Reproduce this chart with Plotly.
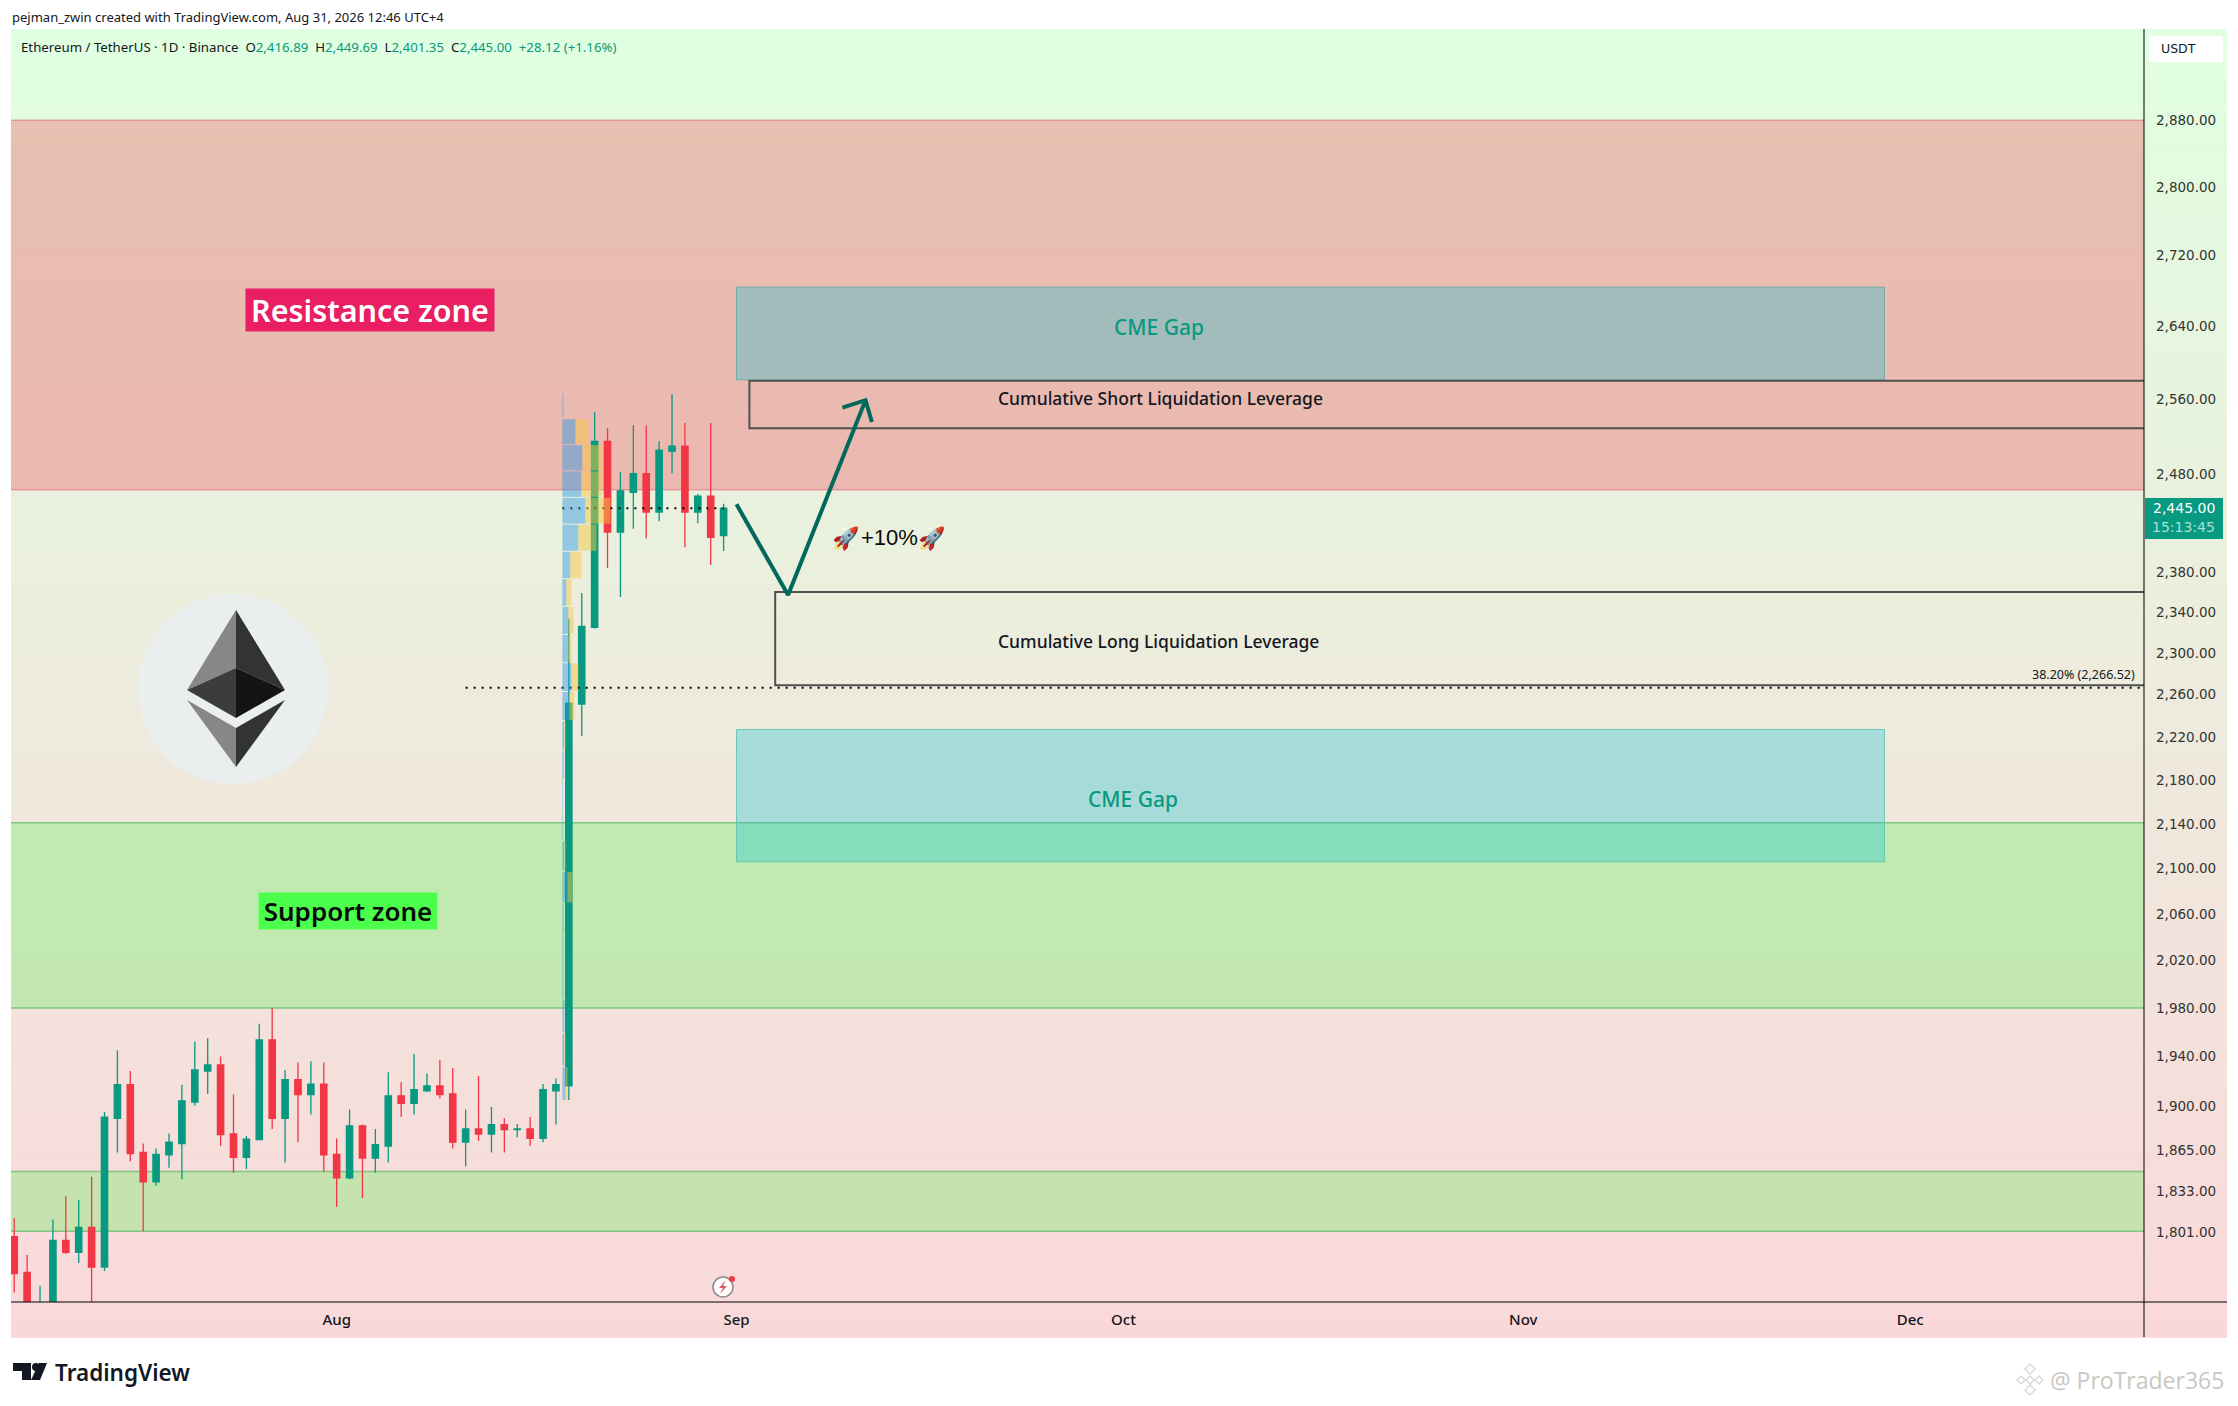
import pandas as pd
import math
import plotly.graph_objects as go

# ETHUSDT daily candles
start_day = '2026-07-07'
opens = [1798, 1771, 1725, 1735, 1795, 1786, 1805, 1775, 1890, 1917, 1863, 1840, 1861, 1870, 1903, 1928,
         1933, 1877.5, 1859, 1873, 1953.5, 1890, 1921, 1909, 1917.5, 1861.5, 1843, 1884, 1858.5, 1868, 1908, 1902,
         1912, 1916, 1909.5, 1871, 1881.5, 1877.5, 1885, 1881, 1881.5, 1874, 1912, 1916, 2251, 2325,
         2515, 2420.5, 2461.5, 2481, 2441, 2504.6, 2510, 2441, 2457.5, 2416.89]
highs = [1812, 1784, 1761, 1811, 1829, 1826, 1844, 1895, 1945, 1928, 1870, 1866, 1878, 1917, 1952, 1955,
         1940, 1909, 1876, 1967, 1980, 1929, 1935, 1936, 1935, 1874, 1897, 1885, 1881.5, 1927, 1919, 1942,
         1926, 1937, 1930.5, 1897, 1924, 1899, 1890, 1885.5, 1891, 1917.5, 1922, 2333, 2359, 2546,
         2529, 2483, 2532, 2532, 2515, 2565.5, 2534.5, 2459.6, 2534.5, 2449.69]
lows = [1756, 1725, 1715, 1725, 1785, 1778, 1740, 1772, 1863, 1856, 1802, 1837, 1851, 1842, 1900, 1909.5,
        1868, 1847, 1850, 1872.5, 1881.5, 1855, 1871, 1893, 1848, 1820.5, 1842, 1827.5, 1847, 1855, 1891, 1893,
        1911, 1906, 1866, 1852, 1872, 1863, 1863, 1875, 1868, 1871, 1885, 1904.6, 2221, 2324,
        2384, 2355, 2424, 2414, 2431.6, 2481, 2405, 2429.6, 2387, 2401.35]
closes = [1770, 1735, 1742, 1795, 1786, 1805, 1775, 1891, 1917, 1862, 1840, 1861.5, 1871, 1904, 1929, 1933,
          1877, 1859, 1873.5, 1953.5, 1890, 1921, 1909, 1917.5, 1861, 1843, 1884, 1858.5, 1869, 1908, 1902, 1913,
          1916, 1909, 1871, 1881.5, 1877.5, 1885, 1881, 1881.5, 1874, 1913, 1917, 2252, 2326, 2515,
          2420.5, 2463, 2481, 2441, 2505.6, 2510, 2441, 2457.5, 2415, 2445]

price_ticks = [2880, 2800, 2720, 2640, 2560, 2480, 2380, 2340, 2300, 2260, 2220, 2180, 2140, 2100, 2060, 2020,
               1980, 1940, 1900, 1865, 1833, 1801]
month_ticks = ['2026-08-01', '2026-09-01', '2026-10-01', '2026-11-01', '2026-12-01']
month_labels = ['Aug', 'Sep', 'Oct', 'Nov', 'Dec']

# zones
resistance = [2464, 2880]
supports = [[1980, 2141], [1802, 1848]]
cme_upper = [2581, 2684]
cme_lower = [2106, 2227]
cme_dates = ['2026-09-01', '2026-11-29']
short_liq = [2529, 2580]
long_liq = [2269, 2360]
short_liq_start = '2026-09-02'
long_liq_start = '2026-09-04'
fib_level = 2266.52
fib_start = '2026-08-11'
last_price = 2445
last_start = '2026-08-18 12:00'
last_end = '2026-08-31'

# projected path drawn on the chart
path_dates = ['2026-09-01', '2026-09-05', '2026-09-11']
path_prices = [2449, 2357, 2559]
head_dates = ['2026-09-09 05:00', '2026-09-11', '2026-09-11 12:00']
head_prices = [2551, 2559, 2535.6]

# volume profile rows, width measured in candles
vp_base = '2026-08-18 12:00'
vp_tops = [2566.6, 2539, 2511.4, 2483.8, 2456.2, 2428.6, 2401, 2373.4, 2345.8, 2318.2, 2290.6, 2263, 2235.4, 2207.8,
           2180.2, 2152.6, 2125, 2097.4, 2069.8, 2042.2, 2014.6, 1987, 1959.4, 1931.8]
vp_bottom = 1904.2
vp_buy = [0.08, 1.01, 1.55, 1.47, 1.78, 1.24, 0.62, 0.31, 0.47, 0.47, 0.7, 0.54, 0.16, 0.12, 0.05, 0.05,
          0.16, 0.39, 0.1, 0.08, 0.08, 0.16, 0.16, 0.23]
vp_sell = [0, 1.01, 1.55, 1.63, 1.94, 1.4, 0.85, 0.39, 0.39, 0.23, 0.54, 0.39, 0.08, 0, 0, 0,
           0.08, 0.39, 0, 0, 0, 0, 0.08, 0.16]

OFF = 8
FW = 2238 - 2 * OFF
FH = 1406 - 2 * OFF


def fx(px):
    return (px - OFF) / FW


def fy(py):
    return 1 - (py - OFF) / FH


def poly(points, fill, line=None, width=0):
    d = 'M ' + ' L '.join('%.5f,%.5f' % (fx(a), fy(b)) for a, b in points) + ' Z'
    return dict(type='path', xref='paper', yref='paper', path=d, fillcolor=fill, layer='above',
                line=dict(color=line or fill, width=width))


def circle(cx, cy, r, fill, line=None, width=0):
    return dict(type='circle', xref='paper', yref='paper', x0=fx(cx - r), x1=fx(cx + r), y0=fy(cy + r), y1=fy(cy - r),
                fillcolor=fill, layer='above', line=dict(color=line or fill, width=width))


def box(x0, y0, x1, y1, fill, line=None, width=0):
    return dict(type='rect', xref='paper', yref='paper', x0=fx(x0), x1=fx(x1), y0=fy(y1), y1=fy(y0),
                fillcolor=fill, layer='above', line=dict(color=line or fill, width=width))


def text(s, x, y, size, color='#131722', family='Noto Sans', anchor='left', weight=None, **kw):
    return dict(text=s, xref='paper', yref='paper', x=fx(x), y=fy(y), xanchor=anchor, yanchor='middle', showarrow=False,
                font=dict(size=size, color=color, family=family, weight=weight), **kw)


days = pd.date_range(start_day, periods=len(opens), freq='D')
x_range = ['2026-07-06 18:00', '2026-12-19 03:00']
y_range = [math.log10(1749), math.log10(2993)]
# zones run past both edges of the chart and get clipped there
zone_span = ['2026-06-15', '2027-01-15']

fig = go.Figure()

# page background gradient, sits on the first subplot so everything else stays above it
fig.add_trace(go.Heatmap(x=[0, 1], y=[0, 1], z=[[0, 0], [1, 1]], zsmooth='best', showscale=False, hoverinfo='skip',
                         colorscale=[[0, 'rgb(250,216,218)'], [1, 'rgb(224,255,224)']], xaxis='x', yaxis='y'))

fig.add_trace(go.Candlestick(x=days, open=opens, high=highs, low=lows, close=closes, xaxis='x2', yaxis='y2',
                             increasing=dict(line=dict(color='#089981', width=1.3), fillcolor='#089981'),
                             decreasing=dict(line=dict(color='#F23645', width=1.3), fillcolor='#F23645'),
                             whiskerwidth=0, showlegend=False))

fig.add_trace(go.Scatter(x=path_dates, y=path_prices, mode='lines', xaxis='x2', yaxis='y2', showlegend=False,
                         line=dict(color='#00695c', width=4)))
fig.add_trace(go.Scatter(x=head_dates, y=head_prices, mode='lines', xaxis='x2', yaxis='y2', showlegend=False,
                         line=dict(color='#00695c', width=4)))

shapes = []


def zone(lo, hi, fill, line, width=1, d0=None, d1=None, layer='below'):
    shapes.append(dict(type='rect', xref='x2', yref='y2', x0=d0 or zone_span[0], x1=d1 or zone_span[1], y0=lo, y1=hi,
                       fillcolor=fill, layer=layer, line=dict(color=line, width=width)))


zone(resistance[0], resistance[1], 'rgba(242,54,69,0.3)', 'rgba(230,110,130,0.9)')
for s in supports:
    zone(s[0], s[1], 'rgba(0,255,0,0.2)', 'rgba(120,195,120,0.9)', 1.5)
zone(cme_upper[0], cme_upper[1], 'rgba(0,188,212,0.3)', 'rgba(90,170,170,0.8)', 1, cme_dates[0], cme_dates[1])
zone(cme_lower[0], cme_lower[1], 'rgba(0,188,212,0.3)', 'rgba(90,190,180,0.8)', 1, cme_dates[0], cme_dates[1])
zone(short_liq[0], short_liq[1], 'rgba(0,0,0,0)', '#505050', 2, short_liq_start, zone_span[1])
zone(long_liq[0], long_liq[1], 'rgba(0,0,0,0)', '#505050', 2, long_liq_start, zone_span[1])

# dotted levels
shapes.append(dict(type='line', xref='x2', yref='y2', x0=fib_start, x1=x_range[1], y0=fib_level, y1=fib_level,
                   layer='above', line=dict(color='black', width=2, dash='2px,6px')))
shapes.append(dict(type='line', xref='x2', yref='y2', x0=last_start, x1=last_end, y0=last_price, y1=last_price,
                   layer='above', line=dict(color='black', width=2, dash='2px,6px')))

# volume profile rows
edges = vp_tops + [vp_bottom]
base = pd.Timestamp(vp_base)
for i in range(len(vp_tops)):
    top = edges[i] - 0.5
    bot = edges[i + 1] + 0.5
    mid = base + pd.Timedelta(days=vp_buy[i])
    end = mid + pd.Timedelta(days=vp_sell[i])
    shapes.append(dict(type='rect', xref='x2', yref='y2', x0=base, x1=mid, y0=bot, y1=top, layer='above',
                       fillcolor='rgba(41,150,230,0.45)', line=dict(width=0)))
    if vp_sell[i] > 0:
        shapes.append(dict(type='rect', xref='x2', yref='y2', x0=mid, x1=end, y0=bot, y1=top, layer='above',
                           fillcolor='rgba(245,200,68,0.5)', line=dict(width=0)))

# frame lines
shapes.append(box(2143.5, 29, 2144.5, 1337, 'black'))
shapes.append(box(11, 1301.5, 2227, 1302.5, 'black'))

# ethereum logo
shapes.append(circle(233, 689, 95, '#ebeeee'))
shapes.append(poly([(236, 610), (187, 690), (236, 668)], '#878787'))
shapes.append(poly([(236, 610), (285, 690), (236, 668)], '#323432'))
shapes.append(poly([(187, 690), (236, 668), (236, 718)], '#3c3c3c'))
shapes.append(poly([(285, 690), (236, 668), (236, 718)], '#141414'))
shapes.append(poly([(187, 700), (236, 728), (236, 767)], '#878787'))
shapes.append(poly([(285, 700), (236, 728), (236, 767)], '#323432'))

# price scale widgets
shapes.append(box(2149, 36, 2223, 62, 'white'))
shapes.append(box(2145, 498, 2223, 539, '#089981'))

# news icon
shapes.append(circle(723, 1287, 10, 'white', '#8a8a8a', 1.5))
shapes.append(poly([(726, 1280), (719, 1288), (723, 1288), (720, 1294), (727, 1286), (723, 1286)], '#d9566a'))
shapes.append(circle(732, 1279, 3, '#f23645'))

# tradingview logo
shapes.append(poly([(13, 1363), (31, 1363), (31, 1380), (22, 1380), (22, 1371), (13, 1371)], '#131722'))
shapes.append(circle(36, 1367, 4, '#131722'))
shapes.append(poly([(39, 1363), (47, 1363), (40, 1380), (31, 1380)], '#131722'))

# watermark icon
for cx, cy, r in [(2030, 1369, 5), (2030, 1380, 4), (2021, 1380, 4), (2039, 1380, 4), (2030, 1390, 5)]:
    shapes.append(poly([(cx - r, cy), (cx, cy - r), (cx + r, cy), (cx, cy + r)], 'rgba(255,255,255,0)', '#dcdad6', 1.5))

green = '#089981'
legend = ('Ethereum / TetherUS · 1D · Binance &nbsp;O<span style="color:%s">2,416.89</span> &nbsp;H<span style="color:%s">2,449.69</span>'
          ' &nbsp;L<span style="color:%s">2,401.35</span> &nbsp;C<span style="color:%s">2,445.00</span>'
          ' &nbsp;<span style="color:%s">+28.12 (+1.16%%)</span>') % (green, green, green, green, green)

annotations = [
    text('pejman_zwin created with TradingView.com, Aug 31, 2026 12:46 UTC+4', 10, 17, 13),
    text(legend, 19, 47, 13.25),
    text('USDT', 2159, 49, 12.5, family='DejaVu Sans'),
    text('2,445.00', 2217, 508, 14, color='white', family='DejaVu Sans', anchor='right'),
    text('15:13:45', 2217, 527, 14, color='#a8e0d2', family='DejaVu Sans', anchor='right'),
    text('Resistance zone', 370, 310, 30.5, color='white', anchor='center', weight=600,
         bgcolor='#e91e63', width=246, height=40),
    text('Support zone', 348, 911, 26, color='#0a0a0a', anchor='center', weight=600,
         bgcolor='#4cff4c', width=176, height=34),
    text('CME Gap', 1159, 327, 21, color=green, anchor='center', weight=500),
    text('CME Gap', 1133, 799, 21, color=green, anchor='center', weight=500),
    text('Cumulative Short Liquidation Leverage', 996, 398, 17.5, weight=500),
    text('Cumulative Long Liquidation Leverage', 996, 641, 17.5, weight=500),
    text('38.20% (2,266.52)', 2137, 674, 12.5, anchor='right'),
    text('🚀', 845, 537, 22, anchor='center'),
    text('+10%', 889.5, 537, 22, color='#0a0a0a', family='Liberation Sans', anchor='center'),
    text('🚀', 931, 537, 22, anchor='center'),
    text('TradingView', 53, 1372, 22.5, weight=600),
    text('@ ProTrader365', 2048, 1380, 23, color='#c9c7c2', family='Open Sans'),
]

fig.update_layout(
    width=FW, height=FH, margin=dict(l=0, r=0, t=0, b=0, pad=0), paper_bgcolor='white', plot_bgcolor='rgba(0,0,0,0)',
    showlegend=False, shapes=shapes, annotations=annotations,
    xaxis=dict(domain=[fx(11), fx(2227)], range=[0, 1], visible=False, fixedrange=True),
    yaxis=dict(domain=[fy(1338), fy(29)], range=[0, 1], visible=False, fixedrange=True),
    xaxis2=dict(domain=[fx(11), fx(2144)], range=x_range, type='date', anchor='y2', showgrid=False, zeroline=False,
                rangeslider=dict(visible=False), tickvals=month_ticks, ticktext=month_labels, ticks='',
                ticklabelstandoff=7, tickfont=dict(size=15, family='Noto Sans', color='#131722', weight=500)),
    yaxis2=dict(domain=[fy(1302), fy(29)], range=y_range, type='log', anchor='x2', side='right', showgrid=False,
                zeroline=False, tickvals=price_ticks, ticktext=['{:,.2f}'.format(p) for p in price_ticks], ticks='',
                ticklabelstandoff=11, tickfont=dict(size=13.5, family='DejaVu Sans', color='#333333')),
)

fig.write_html("out.html")
